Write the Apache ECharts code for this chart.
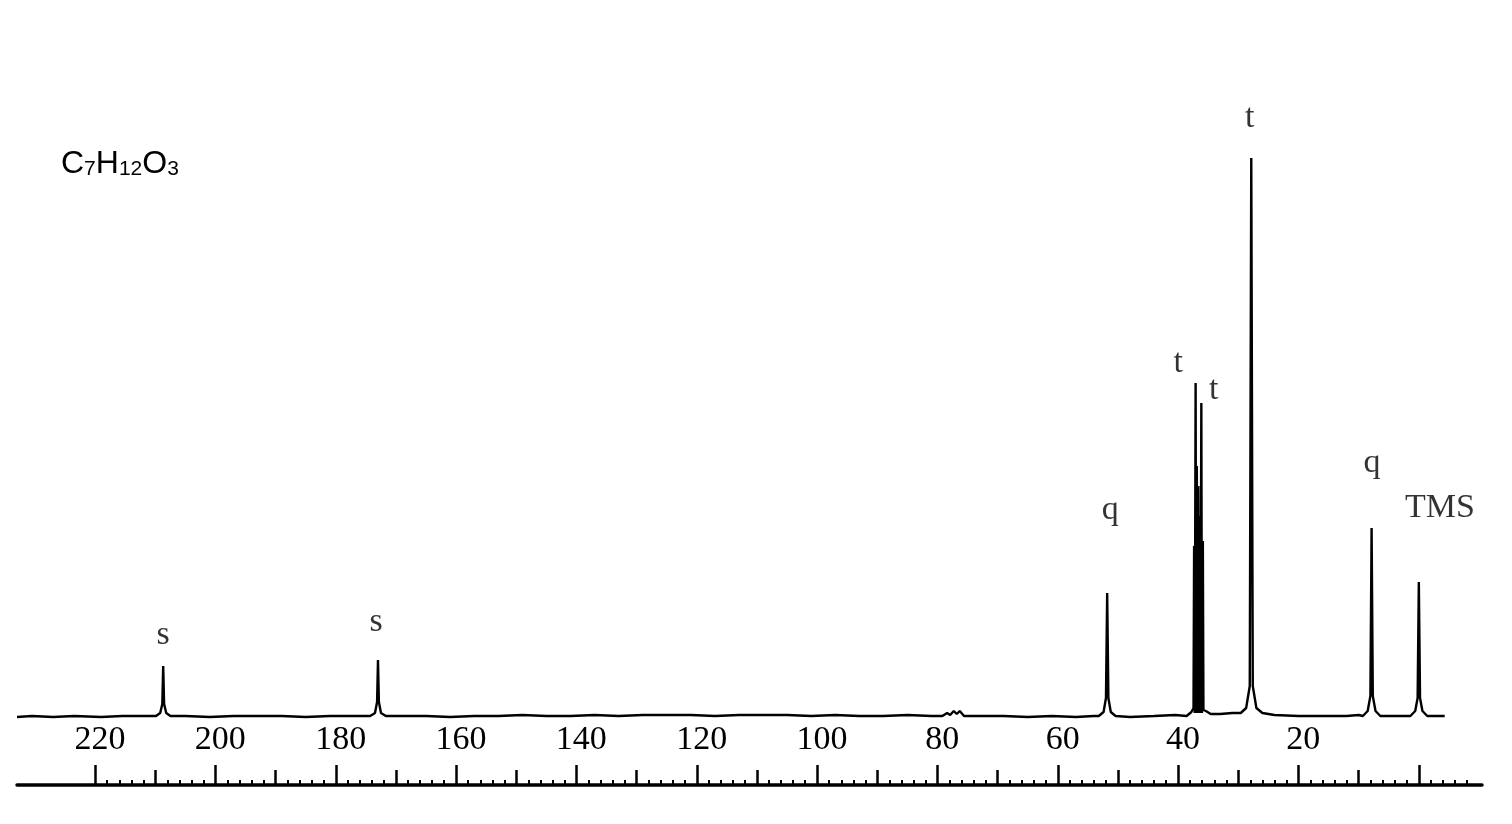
<!DOCTYPE html>
<html>
<head>
<meta charset="utf-8">
<script src="https://cdn.jsdelivr.net/npm/echarts@6/dist/echarts.min.js"></script>
<style>
html,body{margin:0;padding:0;background:#fff;}
#chart{width:1512px;height:824px;}
</style>
</head>
<body>
<div id="chart"></div>
<script>
// ---- data (chemical shift in ppm, intensity in arbitrary units) ----
const baselinePoints = [
  [233.0, -1], [230.5, 0], [227.0, -1], [223.5, 0], [219.0, -1], [215.5, 0], [212.0, 0],
  [205.0, 0], [201.0, -1], [197.0, 0], [193.0, 0], [189.0, 0], [185.0, -1], [181.0, 0],
  [177.0, 0], [169.0, 0], [165.0, 0], [161.0, -1], [157.0, 0], [153.0, 0], [149.0, 1],
  [145.0, 0], [141.0, 0], [137.0, 1], [133.0, 0], [129.0, 1], [125.0, 1], [121.0, 1],
  [117.0, 0], [113.0, 1], [109.0, 1], [105.0, 1], [101.0, 0], [97.0, 1], [93.0, 0],
  [89.0, 0], [85.0, 1], [81.0, 0], [73.0, 0], [69.0, 0], [65.0, -1], [61.0, 0],
  [57.0, -1], [54.0, 0], [48.0, -1], [44.0, 0], [40.5, 1], [33.0, 2], [31.0, 3],
  [24.0, 1], [20.0, 0], [16.0, 0], [12.0, 0], [10.0, 1], [5.0, 0], [2.5, 0],
  [-2.5, 0], [-4.3, 0]
];
const peakPoints = [
  // s (ketone C=O)
  [209.9, 0], [209.2, 3], [208.85, 12], [208.7, 50], [208.55, 12], [208.2, 3], [207.5, 0],
  // s (ester C=O)
  [174.3, 0], [173.5, 3], [173.15, 14], [173.0, 56], [172.85, 14], [172.5, 3], [171.7, 0],
  // solvent triplet
  [79.2, 0], [78.4, 3], [77.9, 1], [77.3, 5], [76.8, 2], [76.3, 5], [75.6, 0],
  // q (OCH3)
  [53.2, 0], [52.4, 4], [52.0, 18], [51.8, 123], [51.6, 18], [51.2, 4], [50.4, 0],
  // t, t (CH2 pair, overlapping multiplet)
  [38.6, 0], [37.8, 4], [37.45, 8], [37.35, 170], [37.25, 3], [37.1, 333], [37.0, 3],
  [36.9, 250], [36.8, 3], [36.65, 230], [36.55, 3], [36.4, 200], [36.3, 3], [36.15, 313],
  [36.05, 3], [35.9, 175], [35.8, 6], [35.4, 5], [34.6, 2],
  // t (tall CH2)
  [29.6, 3], [28.7, 8], [28.1, 30], [27.85, 558], [27.6, 30], [27.0, 8], [26.0, 3],
  // q (CH3)
  [9.3, 0], [8.5, 5], [8.05, 20], [7.85, 188], [7.65, 20], [7.2, 5], [6.4, 0],
  // TMS
  [1.4, 0], [0.6, 5], [0.2, 18], [0.0, 134], [-0.2, 18], [-0.6, 5], [-1.4, 0]
];
const peakLabels = [
  // [ppm, intensity-level anchor, text]
  [208.7, 81, 's'], [173.3, 94, 's'], [51.3, 206, 'q'], [40.0, 353, 't'],
  [34.1, 326, 't'], [28.1, 598, 't'], [7.8, 253, 'q'], [-3.5, 208, 'TMS']
];
const tickLabels = [220, 200, 180, 160, 140, 120, 100, 80, 60, 40, 20];
const majorTicks = [220, 200, 180, 160, 140, 120, 100, 80, 60, 40, 20, 0];
const midTicks = [210, 190, 170, 150, 130, 110, 90, 70, 50, 30, 10];
const minorTicks = [];
for (let v = 218; v >= -8; v -= 2) { if (v % 10 !== 0) minorTicks.push(v); }
const formula = ['C', '7', 'H', '12', 'O', '3'];

// ---- build ----
const spectrum = baselinePoints.concat(peakPoints).sort((a, b) => b[0] - a[0]);
const PPM_MIN = -10.5, PPM_MAX = 233;
const serif = '"Liberation Serif", "Times New Roman", serif';
const sans = '"Liberation Sans", Arial, sans-serif';

const chart = echarts.init(document.getElementById('chart'), null, {renderer: 'canvas'});

const hiddenAxis = {
  axisLine: {show: false}, axisTick: {show: false}, axisLabel: {show: false}, splitLine: {show: false}
};

const rulerAxis = (gi, ticks, len, width, showLine) => ({
  type: 'value', gridIndex: gi, position: 'bottom', inverse: true, min: PPM_MIN, max: PPM_MAX,
  axisLine: {show: showLine, onZero: false, lineStyle: {color: '#000', width: 3.5}},
  axisTick: {show: true, inside: true, length: len, customValues: ticks, lineStyle: {color: '#000', width: width}},
  axisLabel: {show: false}, splitLine: {show: false}
});

const formulaText = formula.map((s, i) => (i % 2 === 0 ? '{a|' : '{b|') + s + '}').join('');

chart.setOption({
  animation: false,
  backgroundColor: '#fff',
  title: {
    text: formulaText, left: 56, top: 139,
    textStyle: {
      fontWeight: 'normal',
      rich: {
        a: {fontFamily: sans, fontSize: 32, fontWeight: 'normal', color: '#000', lineHeight: 36, verticalAlign: 'bottom'},
        b: {fontFamily: sans, fontSize: 21, fontWeight: 'normal', color: '#000', lineHeight: 26, verticalAlign: 'bottom'}
      }
    }
  },
  grid: [
    {left: 17, right: 30, top: 116, bottom: 108},
    {left: 17, right: 30, top: 740, bottom: 39}
  ],
  xAxis: [
    Object.assign({type: 'value', gridIndex: 0, inverse: true, min: PPM_MIN, max: PPM_MAX}, hiddenAxis),
    {
      type: 'value', gridIndex: 0, position: 'bottom', inverse: true, min: PPM_MIN + 0.8, max: PPM_MAX + 0.8,
      axisLine: {show: false}, axisTick: {show: false}, splitLine: {show: false},
      axisLabel: {show: true, customValues: tickLabels, margin: 7, fontFamily: serif, fontSize: 34, color: '#000'}
    },
    rulerAxis(1, majorTicks, 20, 2.5, true),
    rulerAxis(1, midTicks, 15, 2.5, false),
    rulerAxis(1, minorTicks, 5, 2, false)
  ],
  yAxis: [
    Object.assign({type: 'value', gridIndex: 0, min: 0, max: 600}, hiddenAxis),
    Object.assign({type: 'value', gridIndex: 1, min: 0, max: 1}, hiddenAxis)
  ],
  series: [
    {
      type: 'line', xAxisIndex: 0, yAxisIndex: 0, data: spectrum,
      showSymbol: false, symbol: 'none', smooth: false, clip: false,
      lineStyle: {color: '#000', width: 2.4}
    },
    {
      type: 'scatter', xAxisIndex: 0, yAxisIndex: 0, symbolSize: 0, clip: false,
      data: peakLabels.map(p => ({value: [p[0], p[1]], name: p[2]})),
      label: {show: true, position: 'inside', formatter: p => p.name, fontFamily: serif, fontSize: 34, color: '#000'},
      silent: true
    }
  ]
});
</script>
</body>
</html>
